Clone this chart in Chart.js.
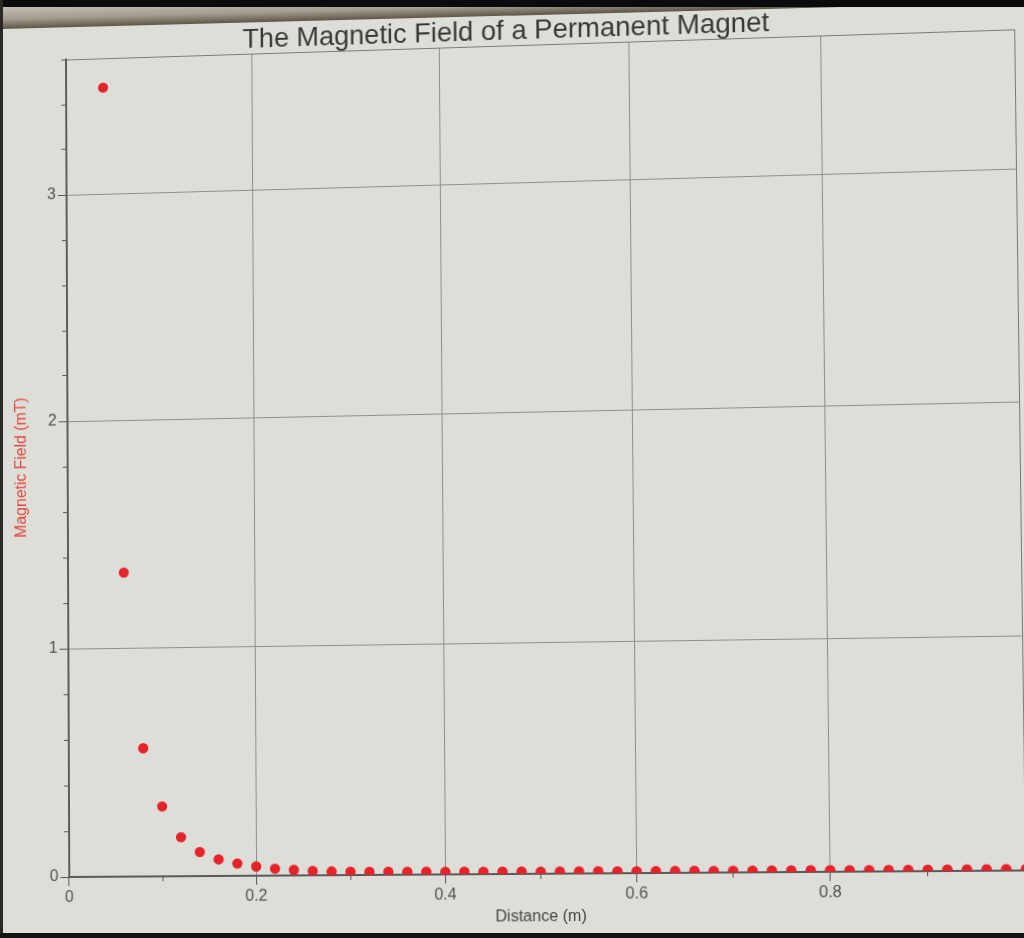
<!DOCTYPE html>
<html>
<head>
<meta charset="utf-8">
<title>The Magnetic Field of a Permanent Magnet</title>
<script src="https://cdn.jsdelivr.net/npm/chart.js@4.4.1/dist/chart.umd.min.js"></script>
<style>
  html, body { margin: 0; padding: 0; }
  body {
    width: 1024px; height: 938px; overflow: hidden; position: relative;
    background: #dedeD9;
    font-family: "Liberation Sans", Arial, sans-serif;
  }
  #wrap { position: absolute; left: 0; top: 0; width: 1024px; height: 938px; transform-origin: 0 0; z-index: 2; }
  .bezel-top { position: absolute; left: 0; top: 0; width: 1024px; height: 7px; background: #0b0b0b; z-index: 6; }
  .bezel-edge {
    position: absolute; left: 0; top: 7px; width: 1100px; height: 22px;
    transform-origin: 0 0; transform: rotate(-1.5deg);
    background: linear-gradient(#c2beb5 0%, #a49d90 55%, #5e5548 100%);
    z-index: 5;
  }
  .bezel-left { position: absolute; left: 0; top: 0; width: 3px; height: 938px; background: #2a2724; z-index: 6; }
  .bezel-bottom { position: absolute; left: 0; bottom: 0; width: 1024px; height: 5px; background: #141414; z-index: 6; }
</style>
</head>
<body>
<div class="bezel-top"></div>
<div class="bezel-edge"></div>
<div class="bezel-left"></div>
<div class="bezel-bottom"></div>
<div id="wrap"><canvas id="grafico" width="1024" height="938"></canvas></div>

<script>
// textos
const titulo = "The Magnetic Field of a Permanent Magnet";
const eixoX = "Distance (m)";
const eixoY = "Magnetic Field (mT)";

const distance = [
  0.04, 0.06, 0.08, 0.10, 0.12, 0.14, 0.16, 0.18, 0.20, 0.22,
  0.24, 0.26, 0.28, 0.30, 0.32, 0.34, 0.36, 0.38, 0.40, 0.42,
  0.44, 0.46, 0.48, 0.50, 0.52, 0.54, 0.56, 0.58, 0.60, 0.62,
  0.64, 0.66, 0.68, 0.70, 0.72, 0.74, 0.76, 0.78, 0.80, 0.82,
  0.84, 0.86, 0.88, 0.90, 0.92, 0.94, 0.96, 0.98, 1.00
];
const field = [
  3.47, 1.33, 0.56, 0.305, 0.17, 0.105, 0.072, 0.054, 0.040, 0.030,
  0.024, 0.019, 0.016, 0.014, 0.013, 0.013, 0.012, 0.012, 0.011, 0.011,
  0.010, 0.010, 0.010, 0.009, 0.009, 0.009, 0.009, 0.008, 0.008, 0.008,
  0.008, 0.008, 0.007, 0.007, 0.007, 0.007, 0.007, 0.007, 0.007, 0.006,
  0.006, 0.006, 0.006, 0.006, 0.006, 0.006, 0.006, 0.006, 0.006
];

// ticks com rótulo
const xTicks = [0, 0.2, 0.4, 0.6, 0.8];
const yTicks = [0, 1, 2, 3];
const xMax = 1.0;
const yMax = 3.6;

// cantos da área do gráfico na foto (perspectiva da câmera)
const fotoCantos = [[66, 59.5], [1015, 29.3], [69.3, 877], [1026, 870.5]];

const fonte = '"Liberation Sans", Arial, sans-serif';
const perto = (a, b) => Math.abs(a - b) < 1e-6;
const ehMaiorX = v => xTicks.some(t => perto(t, v));
const ehMaiorY = v => yTicks.some(t => perto(t, v));

function resolverHomografia(src, dst) {
    const A = [], B = [];
    for (let i = 0; i < 4; i++) {
        const [x, y] = src[i], [u, v] = dst[i];
        A.push([x, y, 1, 0, 0, 0, -x * u, -y * u]); B.push(u);
        A.push([0, 0, 0, x, y, 1, -x * v, -y * v]); B.push(v);
    }
    const n = 8;
    for (let c = 0; c < n; c++) {
        let p = c;
        for (let r = c + 1; r < n; r++) if (Math.abs(A[r][c]) > Math.abs(A[p][c])) p = r;
        [A[c], A[p]] = [A[p], A[c]];
        [B[c], B[p]] = [B[p], B[c]];
        for (let r = c + 1; r < n; r++) {
            const f = A[r][c] / A[c][c];
            for (let k = c; k < n; k++) A[r][k] -= f * A[c][k];
            B[r] -= f * B[c];
        }
    }
    const h = new Array(n);
    for (let r = n - 1; r >= 0; r--) {
        let s = B[r];
        for (let k = r + 1; k < n; k++) s -= A[r][k] * h[k];
        h[r] = s / A[r][r];
    }
    return h;
}

const ctx = document.getElementById("grafico").getContext("2d");

const grafico = new Chart(ctx, {
    type: "scatter",
    data: {
        datasets: [{
            data: distance.map((x, i) => ({ x: x, y: field[i] })),
            backgroundColor: "#e6232a",
            borderWidth: 0,
            pointRadius: 5.2,
            pointHoverRadius: 5.2,
            clip: 0
        }]
    },
    options: {
        responsive: false,
        animation: false,
        events: [],
        layout: { padding: { left: 6, right: 3, top: 0, bottom: 0 } },
        plugins: {
            legend: { display: false },
            tooltip: { enabled: false },
            title: {
                display: true,
                text: titulo,
                color: "#383838",
                font: { family: fonte, size: 27.5, weight: "normal", lineHeight: 1 },
                padding: { top: 18.5, bottom: 0 }
            }
        },
        scales: {
            x: {
                type: "linear",
                min: 0,
                max: xMax,
                z: 1,
                border: { color: "#5a5a5a", width: 2 },
                grid: {
                    color: c => ehMaiorX(c.tick.value) ? "#8e8e8e" : (perto(c.tick.value, xMax) ? "#7a7a7a" : "rgba(0,0,0,0)"),
                    lineWidth: 1,
                    tickLength: 9,
                    tickWidth: 1,
                    tickColor: "#555",
                    tickBorderDash: c => ehMaiorX(c.tick.value) ? [] : [4, 20],
                    tickBorderDashOffset: 0
                },
                ticks: {
                    stepSize: 0.1,
                    autoSkip: false,
                    maxRotation: 0,
                    padding: 2,
                    color: "#505050",
                    font: { family: fonte, size: 16 },
                    callback: v => ehMaiorX(v) ? (v === 0 ? "0" : v.toFixed(1)) : ""
                },
                title: {
                    display: true,
                    text: eixoX,
                    color: "#454545",
                    font: { family: fonte, size: 16 },
                    padding: { top: 1, bottom: 11.6 }
                }
            },
            y: {
                type: "linear",
                min: 0,
                max: yMax,
                z: 1,
                border: { color: "#5a5a5a", width: 2 },
                grid: {
                    color: c => ehMaiorY(c.tick.value) ? "#8e8e8e" : (perto(c.tick.value, yMax) ? "#7a7a7a" : "rgba(0,0,0,0)"),
                    lineWidth: 1,
                    tickLength: 9,
                    tickWidth: 1,
                    tickColor: "#555",
                    tickBorderDash: c => ehMaiorY(c.tick.value) ? [] : [4, 5],
                    tickBorderDashOffset: c => ehMaiorY(c.tick.value) ? 0 : 5
                },
                ticks: {
                    stepSize: 0.2,
                    autoSkip: false,
                    padding: 2,
                    color: "#505050",
                    font: { family: fonte, size: 16 },
                    callback: v => ehMaiorY(v) ? String(Math.round(v)) : ""
                },
                title: {
                    display: true,
                    text: eixoY,
                    color: "#e0443c",
                    font: { family: fonte, size: 16 },
                    padding: { top: 5, bottom: 15.9 }
                }
            }
        }
    }
});

// entorta o canvas para imitar a foto da tela
const a = grafico.chartArea;
const h = resolverHomografia(
    [[a.left, a.top], [a.right, a.top], [a.left, a.bottom], [a.right, a.bottom]],
    fotoCantos
);
document.getElementById("wrap").style.transform =
    `matrix3d(${h[0]},${h[3]},0,${h[6]},${h[1]},${h[4]},0,${h[7]},0,0,1,0,${h[2]},${h[5]},0,1)`;
</script>
</body>
</html>
